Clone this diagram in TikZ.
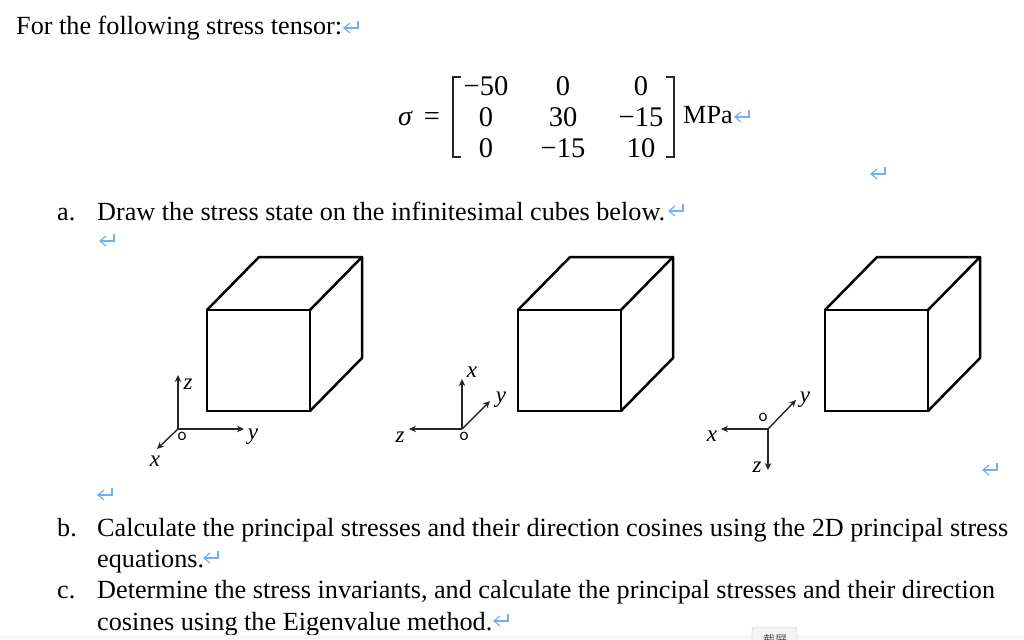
\documentclass[tikz,border=0pt]{standalone}
\usepackage{fontspec}
\setmainfont{Liberation Serif}
\newfontfamily\cjk{Noto Sans CJK SC}
\usetikzlibrary{arrows.meta}
\definecolor{retblue}{RGB}{110,175,245}
\tikzset{
  txt/.style={anchor=base west,inner sep=0pt,font=\fontsize{26.2}{30}\selectfont},
  ent/.style={anchor=base,inner sep=0pt,font=\fontsize{28.5}{30}\selectfont},
  axl/.style={anchor=center,inner sep=0pt,font=\fontsize{23}{26}\selectfont\itshape},
  orig/.style={anchor=center,inner sep=0pt,font=\fontsize{19}{22}\sffamily\selectfont},
  axis/.style={draw=black!85,line width=1.4pt,-{Stealth[length=7pt,width=6.5pt]}},
  cube/.style={draw=black,line width=2.5pt,line join=miter},
  cubeb/.style={draw=black,line width=2.5pt,line join=round},
  bracket/.style={draw=black!85,line width=1.8pt},
  retm/.style={draw=retblue,line width=1.2pt}
}
\newcommand{\retmark}[2]{%
  \draw[retm] (#1+14,#2-7) -- (#1+14,#2) -- (#1,#2);
  \draw[retm] (#1+6,#2-5) -- (#1,#2) -- (#1+6,#2+5);}
\newcommand{\cubeat}[1]{%
  \draw[cube] (#1,310) rectangle (#1+103,411);
  \draw[cubeb] (#1,310) -- (#1+52,257) -- (#1+155,257) -- (#1+103,310);
  \draw[cubeb] (#1+155,257) -- (#1+155,358) -- (#1+103,411);}
\begin{document}
\begin{tikzpicture}[x=1pt,y=-1pt]
\useasboundingbox (0,0) rectangle (1024,639);
\fill[white] (0,0) rectangle (1024,639);

\node[txt] (t1) at (16,35) {For the following stress tensor:};
\retmark{344}{28}

% tensor
\node[anchor=base,inner sep=0pt,font=\fontsize{28}{30}\selectfont\itshape] (sig) at (405,126) {σ};
\node[ent] (eq) at (432,126) {=};
\draw[bracket] (461,77) -- (453,77) -- (453,157) -- (461,157);
\draw[bracket] (666,77) -- (674,77) -- (674,157) -- (666,157);
\node[ent] (m11) at (486,96) {−50};
\node[ent] (m12) at (563,96) {0};
\node[ent] (m13) at (641,96) {0};
\node[ent] (m21) at (486,127) {0};
\node[ent] (m22) at (563,127) {30};
\node[ent] (m23) at (641,127) {−15};
\node[ent] (m31) at (486,158) {0};
\node[ent] (m32) at (563,158) {−15};
\node[ent] (m33) at (641,158) {10};
\node[txt] (mpa) at (683,124) {MPa};
\retmark{735}{117}
\retmark{871}{174}

\node[txt] (a1) at (57,220) {a.};
\node[txt] (a2) at (97,220) {Draw the stress state on the infinitesimal cubes below.};
\retmark{669}{211}
\retmark{100}{241}

\cubeat{207}
\cubeat{518}
\cubeat{825}

% axes 1
\coordinate (o1) at (178,429);
\coordinate (o1z) at (178,375);
\coordinate (o1y) at (244,429);
\coordinate (o1x) at (157,449);
\draw[axis] (o1) -- (o1z);
\draw[axis] (o1) -- (o1y);
\draw[axis] (o1) -- (o1x);
\node[axl] (l1z) at (188,384) {z};
\node[axl] (l1y) at (253,437) {y};
\node[axl] (l1x) at (155,461) {x};
\node[orig] (l1o) at (182,436) {o};

% axes 2
\coordinate (o2) at (462,429);
\coordinate (o2x) at (462,379);
\coordinate (o2z) at (409,429);
\coordinate (o2y) at (490,401);
\draw[axis] (o2) -- (o2x);
\draw[axis] (o2) -- (o2z);
\draw[axis] (o2) -- (o2y);
\node[axl] (l2x) at (472,372) {x};
\node[axl] (l2y) at (501,400) {y};
\node[axl] (l2z) at (400,437) {z};
\node[orig] (l2o) at (464,436) {o};

% axes 3
\coordinate (o3) at (768,429);
\coordinate (o3x) at (721,429);
\coordinate (o3y) at (796,400);
\coordinate (o3z) at (768,470);
\draw[axis] (o3) -- (o3x);
\draw[axis] (o3) -- (o3y);
\draw[axis] (o3) -- (o3z);
\node[axl] (l3x) at (712,436) {x};
\node[axl] (l3y) at (805,400) {y};
\node[axl] (l3z) at (757,467) {z};
\node[orig] (l3o) at (763,417) {o};
\retmark{983}{470}
\retmark{98}{495}

\node[txt] (b1) at (57,536) {b.};
\node[txt] (b2) at (97,536) {Calculate the principal stresses and their direction cosines using the 2D principal stress};
\node[txt] (b3) at (97,567) {equations.};
\retmark{204}{558}
\node[txt] (c1) at (57,598) {c.};
\node[txt] (c2) at (97,598) {Determine the stress invariants, and calculate the principal stresses and their direction};
\node[txt] (c3) at (97,630) {cosines using the Eigenvalue method.};
\retmark{494}{621}

% clipped screenshot button
\begin{scope}
\clip (0,0) rectangle (1024,639);
\fill[black!3] (0,635) rectangle (1024,639);
\draw[black!25,fill=black!4,rounded corners=2pt] (752,627.5) rectangle (797,650);
\node[anchor=base,inner sep=0pt,font=\cjk\fontsize{12}{14}\selectfont,text=black!70] (btn) at (775,644) {截屏};
\end{scope}
\end{tikzpicture}
\end{document}
